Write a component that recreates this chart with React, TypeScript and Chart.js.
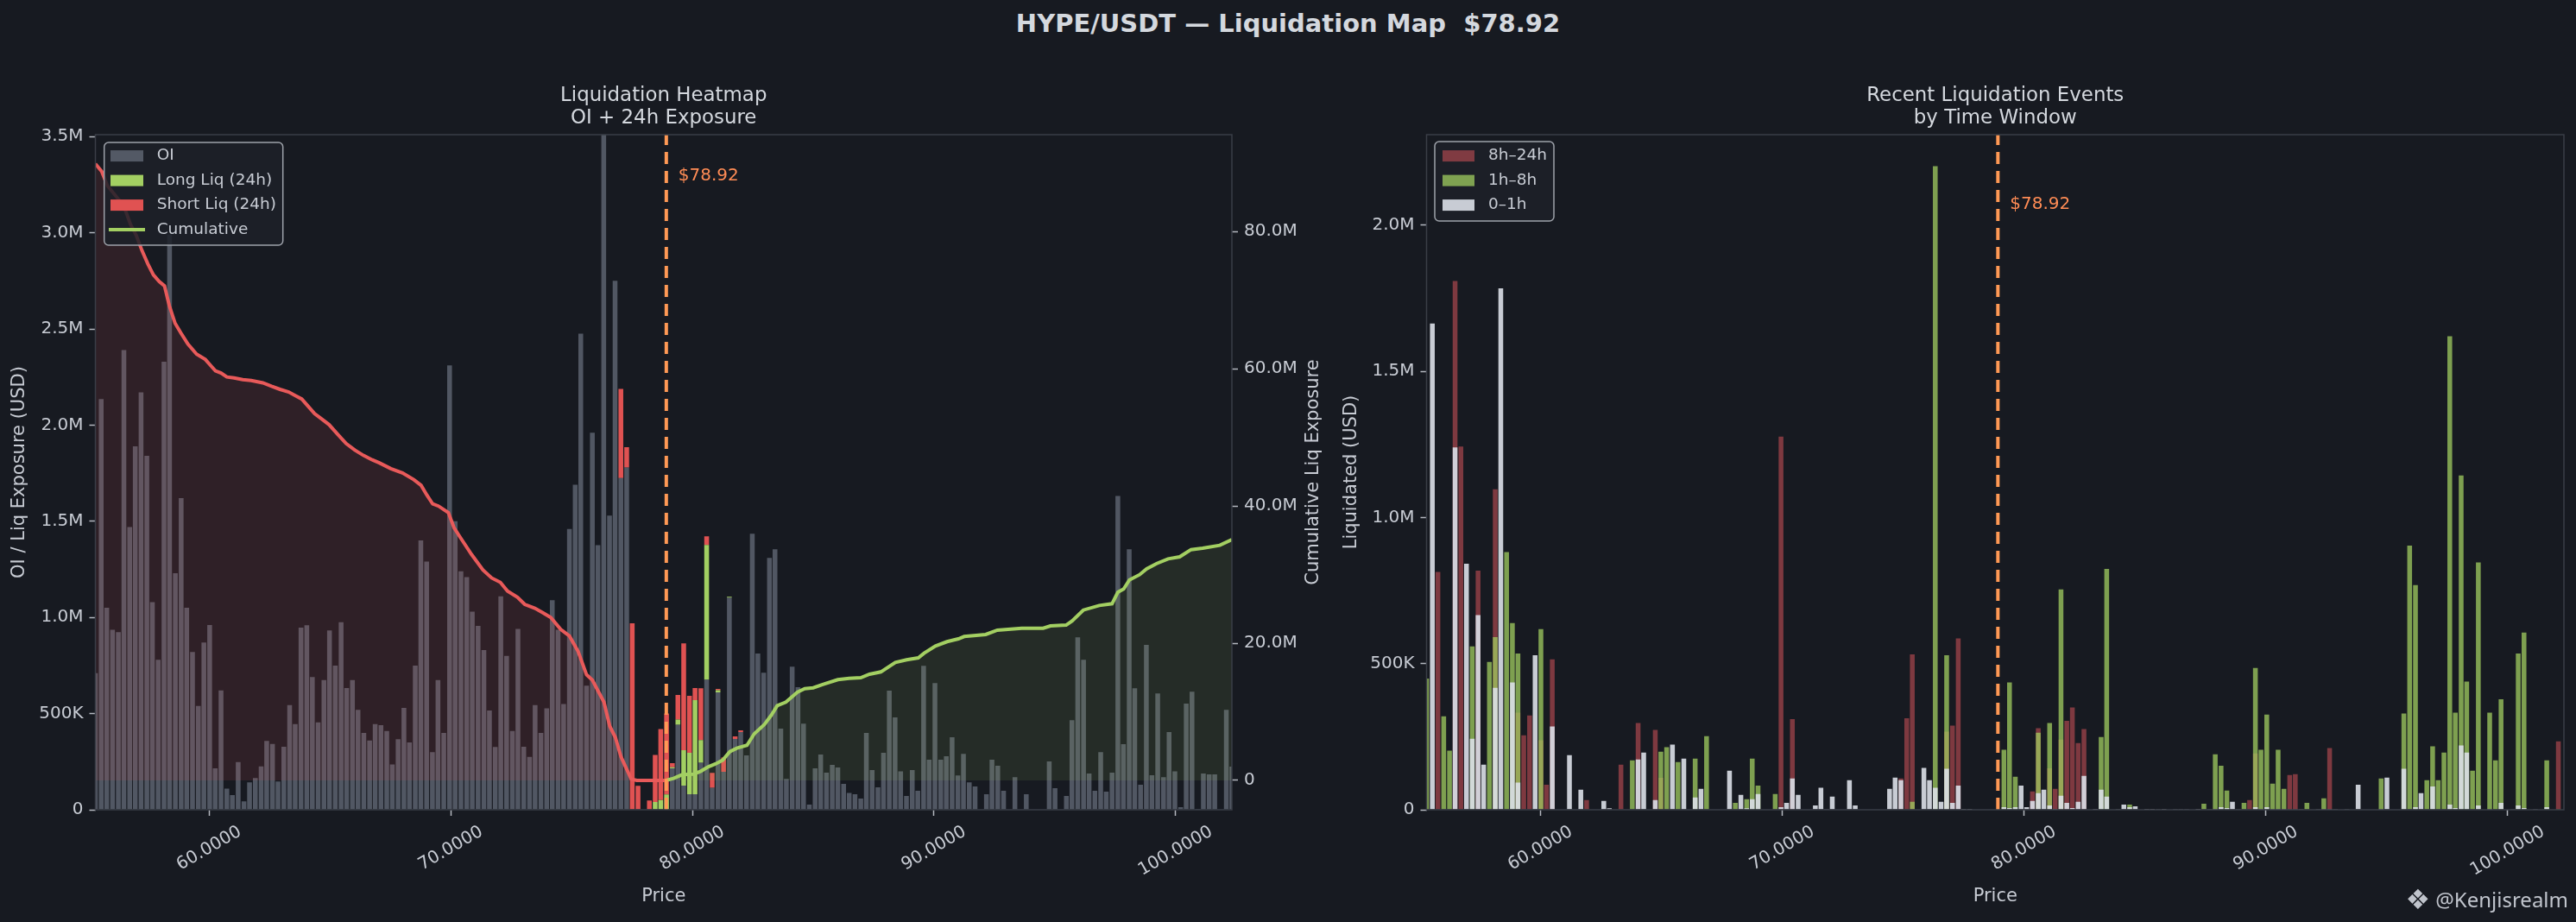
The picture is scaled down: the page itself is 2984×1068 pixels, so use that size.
import React, { useEffect, useRef } from "react";
import { Chart, registerables } from "chart.js";

Chart.register(...registerables);

// ---------------- data ----------------
const CURRENT_PRICE = 78.92;
const X_MIN = 55.29;
const X_MAX = 102.33;
const X_TICKS = [60, 70, 80, 90, 100];
const Y_TICKS_LEFT = [0, 0.5, 1, 1.5, 2, 2.5, 3, 3.5];
const Y2_TICKS_LEFT = [0, 20, 40, 60, 80];
const Y_TICKS_RIGHT = [0, 0.5, 1, 1.5, 2];

// price bin centres
const PRICE_BINS = [
  55.29, 55.53, 55.76, 56.0, 56.24, 56.47, 56.71, 56.94, 57.18, 57.42,
  57.65, 57.89, 58.13, 58.36, 58.6, 58.84, 59.07, 59.31, 59.55, 59.78,
  60.02, 60.25, 60.49, 60.73, 60.96, 61.2, 61.44, 61.67, 61.91, 62.15,
  62.38, 62.62, 62.85, 63.09, 63.33, 63.56, 63.8, 64.04, 64.27, 64.51,
  64.75, 64.98, 65.22, 65.46, 65.69, 65.93, 66.16, 66.4, 66.64, 66.87,
  67.11, 67.35, 67.58, 67.82, 68.06, 68.29, 68.53, 68.76, 69.0, 69.24,
  69.47, 69.71, 69.95, 70.18, 70.42, 70.66, 70.89, 71.13, 71.37, 71.6,
  71.84, 72.07, 72.31, 72.55, 72.78, 73.02, 73.26, 73.49, 73.73, 73.97,
  74.2, 74.44, 74.67, 74.91, 75.15, 75.38, 75.62, 75.86, 76.09, 76.33,
  76.57, 76.8, 77.04, 77.28, 77.51, 77.75, 77.98, 78.22, 78.46, 78.69,
  78.93, 79.17, 79.4, 79.64, 79.88, 80.11, 80.35, 80.59, 80.82, 81.06,
  81.29, 81.53, 81.77, 82.0, 82.24, 82.48, 82.71, 82.95, 83.19, 83.42,
  83.66, 83.89, 84.13, 84.37, 84.6, 84.84, 85.08, 85.31, 85.55, 85.79,
  86.02, 86.26, 86.49, 86.73, 86.97, 87.2, 87.44, 87.68, 87.91, 88.15,
  88.39, 88.62, 88.86, 89.1, 89.33, 89.57, 89.8, 90.04, 90.28, 90.51,
  90.75, 90.99, 91.22, 91.46, 91.7, 91.93, 92.17, 92.4, 92.64, 92.88,
  93.11, 93.35, 93.59, 93.82, 94.06, 94.3, 94.53, 94.77, 95.01, 95.24,
  95.48, 95.71, 95.95, 96.19, 96.42, 96.66, 96.9, 97.13, 97.37, 97.61,
  97.84, 98.08, 98.31, 98.55, 98.79, 99.02, 99.26, 99.5, 99.73, 99.97,
  100.21, 100.44, 100.68, 100.92, 101.15, 101.39, 101.62, 101.86, 102.1, 102.33,
];

// open interest per bin (USD millions)
const OI = [
  0.71, 2.135, 1.05, 0.936, 0.924, 2.39, 1.47, 1.89, 2.17, 1.84,
  1.08, 0.78, 2.33, 2.99, 1.23, 1.62, 1.05, 0.82, 0.54, 0.87,
  0.96, 0.216, 0.62, 0.11, 0.076, 0.248, 0.044, 0.142, 0.165, 0.225,
  0.358, 0.342, 0.147, 0.328, 0.544, 0.445, 0.947, 0.959, 0.69, 0.454,
  0.674, 0.933, 0.75, 0.975, 0.633, 0.674, 0.52, 0.4, 0.36, 0.445,
  0.44, 0.41, 0.236, 0.367, 0.53, 0.35, 0.75, 1.4, 1.29, 0.3,
  0.674, 0.4, 2.31, 1.5, 1.24, 1.21, 1.03, 0.956, 0.83, 0.516,
  0.326, 1.11, 0.8, 0.41, 0.94, 0.328, 0.275, 0.544, 0.4, 0.527,
  1.09, 0.936, 0.55, 1.46, 1.69, 2.475, 0.645, 1.96, 1.376, 3.6,
  1.53, 2.75, 1.725, 1.78, 0, 0, 0, 0, 0, 0,
  0, 0.215, 0.442, 0.126, 0.081, 0.081, 0.245, 0.677, 0.114, 0.61,
  0.197, 1.103, 0.368, 0.404, 0.283, 1.435, 0.812, 0.713, 1.31, 1.354,
  0.422, 0.161, 0.744, 0.637, 0.448, 0.027, 0.215, 0.287, 0.193, 0.233,
  0.22, 0.135, 0.087, 0.081, 0.058, 0.4, 0.206, 0.117, 0.296, 0.619,
  0.48, 0.2, 0.072, 0.206, 0.099, 0.749, 0.26, 0.659, 0.26, 0.278,
  0.377, 0.178, 0.291, 0.143, 0.121, 0.002, 0.081, 0.26, 0.229, 0.099,
  0.002, 0.17, 0, 0.081, 0, 0, 0, 0.251, 0.112, 0.002,
  0.072, 0.466, 0.897, 0.78, 0.188, 0.099, 0.3, 0.094, 0.193, 1.632,
  0.341, 1.354, 0.632, 0.13, 0.857, 0.179, 0.605, 0.17, 0.404, 0.2,
  0.013, 0.552, 0.614, 0.004, 0.188, 0.184, 0.184, 0.002, 0.52, 0.224,
];

// [bin index, USD millions]
const LONG_LIQ_24H: [number, number][] = [
  [98, 0.04], [99, 0.05], [100, 0.08], [101, 0.006], [102, 0.027], [103, 0.184],
  [104, 0.215], [105, 0.489], [106, 0.118], [107, 0.7], [109, 0.012], [111, 0.005],
];
const SHORT_LIQ_24H: [number, number][] = [
  [92, 0.463], [93, 0.105], [94, 0.97], [95, 0.124], [97, 0.048], [98, 0.245],
  [99, 0.37], [100, 0.42], [101, 0.021], [102, 0.128], [103, 0.555], [104, 0.296],
  [105, 0.063], [106, 0.269], [107, 0.045], [108, 0.078], [109, 0.006], [110, 0.075],
  [112, 0.013], [113, 0.009],
];

// cumulative exposure: [price, USD millions]
const CUM_SHORT: [number, number][] = [
  [55.29, 89.85], [55.55, 88.75], [55.79, 86.64], [56.27, 84.59], [56.51, 83.3],
  [56.74, 81.05], [56.98, 79.45], [57.22, 77.2], [57.46, 75.28], [57.69, 73.67],
  [57.93, 72.71], [58.15, 72.07], [58.35, 69.18], [58.59, 66.61], [58.83, 65.2],
  [59.12, 63.59], [59.48, 62.12], [59.84, 61.35], [60.08, 60.38], [60.26, 59.68],
  [60.49, 59.37], [60.73, 58.79], [61.03, 58.65], [61.39, 58.4], [61.74, 58.27],
  [62.22, 57.94], [62.58, 57.44], [62.93, 56.99], [63.29, 56.6], [63.53, 56.15],
  [63.83, 55.58], [64.12, 54.42], [64.36, 53.45], [64.6, 52.81], [64.96, 51.85],
  [65.32, 50.43], [65.67, 49.09], [66.03, 48.13], [66.39, 47.35], [66.75, 46.71],
  [67.04, 46.27], [67.52, 45.43], [68.0, 44.8], [68.47, 43.83], [68.77, 43.0],
  [69.01, 41.58], [69.25, 40.29], [69.49, 39.98], [69.9, 39.01], [70.14, 36.77],
  [70.44, 35.16], [70.86, 32.92], [71.33, 30.67], [71.69, 29.51], [72.05, 28.87],
  [72.35, 27.59], [72.76, 26.69], [73.06, 25.66], [73.48, 25.08], [73.84, 24.38],
  [74.14, 23.74], [74.55, 22.0], [74.91, 21.05], [75.27, 18.79], [75.62, 15.4],
  [75.86, 14.62], [76.34, 11.41], [76.58, 7.89], [76.81, 6.28], [77.05, 3.4],
  [77.47, 0.18], [77.7, 0], [78.9, 0],
];
const CUM_LONG: [number, number][] = [
  [78.9, 0], [79.22, 0.29], [79.58, 0.84], [80.05, 0.92], [80.35, 1.34],
  [80.65, 1.97], [80.95, 2.39], [81.25, 2.94], [81.55, 4.19], [81.84, 4.69],
  [82.26, 5.12], [82.56, 6.79], [82.98, 8.14], [83.27, 9.52], [83.51, 10.9],
  [83.87, 11.41], [84.35, 12.87], [84.65, 13.37], [85.0, 13.5], [85.42, 14.0],
  [86.02, 14.68], [86.49, 14.88], [86.97, 14.97], [87.33, 15.47], [87.8, 15.81],
  [88.4, 17.2], [88.87, 17.57], [89.35, 17.86], [89.59, 18.53], [90.06, 19.59],
  [90.54, 20.22], [91.01, 20.63], [91.25, 20.97], [92.14, 21.26], [92.62, 21.89],
  [93.63, 22.18], [94.52, 22.18], [94.82, 22.52], [95.47, 22.64], [95.71, 23.23],
  [96.18, 24.82], [96.84, 25.49], [97.37, 25.75], [97.61, 27.42], [97.85, 27.89],
  [98.09, 29.22], [98.51, 29.98], [98.8, 30.82], [99.22, 31.61], [99.69, 32.29],
  [100.17, 32.58], [100.64, 33.63], [101.12, 33.84], [101.83, 34.26], [102.33, 35.1],
];

// recent liquidation events: [bin index, USD millions]
const EV_8H_24H: [number, number][] = [
  [2, 0.814], [5, 1.809], [6, 1.243], [9, 0.818], [12, 1.097], [16, 0.332], [17, 0.255],
  [18, 0.323], [20, 0.238], [21, 0.086], [22, 0.515], [28, 0.033], [34, 0.154], [37, 0.297],
  [40, 0.273], [41, 0.109], [62, 1.277], [64, 0.31], [83, 0.107], [84, 0.313], [85, 0.532],
  [91, 0.267], [92, 0.288], [93, 0.586], [106, 0.063], [107, 0.279], [109, 0.142], [110, 0.072],
  [111, 0.24], [112, 0.304], [113, 0.35], [114, 0.228], [115, 0.276], [144, 0.033], [145, 0.193],
  [151, 0.119], [152, 0.122], [158, 0.211], [198, 0.234],
];
const EV_1H_8H: [number, number][] = [
  [0, 0.449], [3, 0.32], [4, 0.202], [8, 0.559], [11, 0.506], [12, 0.591], [14, 0.882],
  [15, 0.639], [16, 0.535], [20, 0.618], [36, 0.169], [41, 0.199], [42, 0.214], [44, 0.163],
  [47, 0.175], [49, 0.252], [54, 0.024], [56, 0.036], [57, 0.175], [58, 0.083], [61, 0.054],
  [85, 0.027], [89, 2.202], [91, 0.529], [101, 0.205], [102, 0.436], [103, 0.113], [107, 0.264],
  [109, 0.297], [111, 0.754], [118, 0.249], [119, 0.824], [123, 0.018], [136, 0.021], [138, 0.19],
  [139, 0.151], [140, 0.066], [143, 0.024], [145, 0.485], [146, 0.205], [147, 0.326], [148, 0.089],
  [149, 0.205], [150, 0.072], [154, 0.024], [157, 0.039], [167, 0.107], [171, 0.329], [172, 0.904],
  [173, 0.769], [175, 0.101], [176, 0.217], [177, 0.101], [178, 0.196], [179, 1.62], [180, 0.332],
  [181, 1.144], [182, 0.439], [183, 0.134], [184, 0.846], [186, 0.332], [187, 0.169], [188, 0.378],
  [191, 0.535], [192, 0.606], [196, 0.169], [198, 0.003],
];
const EV_0H_1H: [number, number][] = [
  [1, 1.664], [5, 1.24], [7, 0.842], [8, 0.243], [9, 0.666], [10, 0.154], [12, 0.417], [13, 1.784],
  [15, 0.436], [16, 0.093], [19, 0.529], [22, 0.285], [25, 0.187], [27, 0.069], [31, 0.03], [32, 0.005],
  [37, 0.172], [38, 0.196], [40, 0.033], [43, 0.223], [45, 0.175], [47, 0.042], [48, 0.072], [53, 0.134],
  [55, 0.051], [56, 0.005], [57, 0.036], [58, 0.054], [62, 0.009], [63, 0.024], [64, 0.107], [65, 0.051],
  [68, 0.015], [69, 0.075], [70, 0.002], [71, 0.045], [74, 0.101], [75, 0.015], [81, 0.072], [82, 0.11],
  [83, 0.101], [87, 0.143], [88, 0.101], [89, 0.075], [90, 0.027], [91, 0.14], [92, 0.024], [93, 0.083],
  [94, 0.003], [95, 0.003], [101, 0.009], [102, 0.006], [103, 0.009], [104, 0.083], [105, 0.009],
  [106, 0.03], [107, 0.057], [108, 0.069], [109, 0.015], [110, 0.003], [111, 0.048], [112, 0.024],
  [113, 0.006], [114, 0.027], [115, 0.116], [117, 0.003], [118, 0.069], [119, 0.045], [121, 0.002],
  [122, 0.018], [123, 0.009], [124, 0.012], [126, 0.003], [127, 0.003], [128, 0.002], [129, 0.003],
  [131, 0.002], [132, 0.002], [133, 0.002], [135, 0.003], [137, 0.002], [138, 0.003], [139, 0.009],
  [140, 0.006], [141, 0.027], [142, 0.002], [145, 0.009], [146, 0.003], [147, 0.009], [148, 0.003],
  [149, 0.003], [150, 0.003], [151, 0.002], [152, 0.002], [153, 0.002], [156, 0.002], [157, 0.003],
  [158, 0.003], [159, 0.002], [161, 0.002], [163, 0.086], [167, 0.003], [168, 0.11], [171, 0.14],
  [173, 0.009], [174, 0.057], [176, 0.08], [179, 0.018], [180, 0.006], [181, 0.22], [182, 0.196],
  [184, 0.015], [186, 0.003], [188, 0.024], [190, 0.002], [191, 0.015], [192, 0.006], [194, 0.002],
  [196, 0.009],
];

// ---------------- style ----------------
const FONT = "'DejaVu Sans', sans-serif";
const BG = "#171a21";
const TEXT = "#c8ccd4";
const TITLE = "#d4d8de";
const SPINE = "#3a3e47";
const TICK = "#b4b8c0";
const OI_COLOR = "rgba(107,114,128,0.7)";
const LONG_COLOR = "#a3cf62";
const SHORT_COLOR = "#e05252";
const RED_LINE = "#e85a5a";
const RED_FILL = "rgba(224,82,82,0.12)";
const GREEN_LINE = "#a3cf62";
const GREEN_FILL = "rgba(163,207,98,0.1)";
const PRICE_COLOR = "#ff9955";
const PRICE_TEXT = "#ff8c55";
const EV_RED = "rgba(195,79,85,0.6)";
const EV_GREEN = "rgba(162,205,96,0.75)";
const EV_WHITE = "rgba(220,224,232,0.9)";
const LEGEND_BG = "rgba(29,33,41,0.86)";
const LEGEND_EDGE = "#9ea2aa";

const TICK_FS = 20;
const LABEL_FS = 21;
const TITLE_FS = 22.9;
const LEGEND_FS = 18.5;
const TICK_LEN = 7;
const TICK_PAD = 7;

const fmtUSD = (v: number) =>
  v === 0 ? "0" : Math.abs(v) >= 1 ? `${v.toFixed(1)}M` : `${Math.round(v * 1000)}K`;

const fromBins = (pairs: [number, number][]) =>
  pairs.map(([b, v]) => ({ x: PRICE_BINS[b], y: v }));
const fromPairs = (pairs: [number, number][]) => pairs.map(([x, y]) => ({ x, y }));

type LegendItem = { label: string; color: string; kind: "rect" | "line" };
type PanelCfg = {
  titles: string[];
  labelY: number;
  legend: {
    x: number; y: number; w: number; h: number;
    swX: number; swW: number; textX: number; firstRow: number; rowGap: number;
    items: LegendItem[];
  };
  y2Title?: { text: string; x: number };
};

function roundRect(ctx: CanvasRenderingContext2D, x: number, y: number, w: number, h: number, r: number) {
  ctx.beginPath();
  ctx.moveTo(x + r, y);
  ctx.lineTo(x + w - r, y);
  ctx.arcTo(x + w, y, x + w, y + r, r);
  ctx.lineTo(x + w, y + h - r);
  ctx.arcTo(x + w, y + h, x + w - r, y + h, r);
  ctx.lineTo(x + r, y + h);
  ctx.arcTo(x, y + h, x, y + h - r, r);
  ctx.lineTo(x, y + r);
  ctx.arcTo(x, y, x + r, y, r);
  ctx.closePath();
}

function panelPlugin(cfg: PanelCfg) {
  return {
    id: "panelDecor",
    afterDatasetsDraw(chart: any) {
      const { ctx, chartArea: a, scales } = chart;
      const px = scales.x.getPixelForValue(CURRENT_PRICE);
      ctx.save();
      ctx.beginPath();
      ctx.rect(a.left, a.top, a.right - a.left, a.bottom - a.top);
      ctx.clip();
      ctx.strokeStyle = PRICE_COLOR;
      ctx.lineWidth = 4;
      ctx.setLineDash([14, 8]);
      ctx.beginPath();
      ctx.moveTo(px, a.bottom);
      ctx.lineTo(px, a.top);
      ctx.stroke();
      ctx.restore();
      ctx.save();
      ctx.font = `20px ${FONT}`;
      ctx.fillStyle = PRICE_TEXT;
      ctx.textAlign = "left";
      ctx.textBaseline = "middle";
      ctx.fillText(`$${CURRENT_PRICE.toFixed(2)}`, px + 14, scales.y.getPixelForValue(cfg.labelY));
      ctx.restore();
    },
    afterDraw(chart: any) {
      const { ctx, chartArea: a, scales } = chart;
      // frame
      ctx.save();
      ctx.strokeStyle = SPINE;
      ctx.lineWidth = 1.5;
      ctx.strokeRect(a.left, a.top, a.right - a.left, a.bottom - a.top);
      ctx.restore();
      // x tick labels (rotated, centred on tick)
      ctx.save();
      ctx.font = `${TICK_FS}px ${FONT}`;
      ctx.fillStyle = TEXT;
      ctx.textAlign = "center";
      ctx.textBaseline = "middle";
      const ang = Math.PI / 6;
      for (const t of scales.x.ticks) {
        const label = Number(t.value).toFixed(4);
        const x = scales.x.getPixelForValue(t.value);
        const w = ctx.measureText(label).width;
        const h = w * Math.sin(ang) + TICK_FS * 1.17 * Math.cos(ang);
        const y = a.bottom + TICK_LEN + TICK_PAD + h / 2;
        ctx.save();
        ctx.translate(x, y);
        ctx.rotate(-ang);
        ctx.fillText(label, 0, 0);
        ctx.restore();
      }
      ctx.restore();
      // panel title
      ctx.save();
      ctx.font = `${TITLE_FS}px ${FONT}`;
      ctx.fillStyle = TITLE;
      ctx.textAlign = "center";
      ctx.textBaseline = "alphabetic";
      const cx = (a.left + a.right) / 2;
      cfg.titles.forEach((t, i) => ctx.fillText(t, cx, 116.5 + i * 26.5));
      ctx.restore();
      // secondary y title
      if (cfg.y2Title) {
        ctx.save();
        ctx.font = `${LABEL_FS}px ${FONT}`;
        ctx.fillStyle = TEXT;
        ctx.textAlign = "center";
        ctx.textBaseline = "middle";
        ctx.translate(cfg.y2Title.x, (a.top + a.bottom) / 2);
        ctx.rotate(-Math.PI / 2);
        ctx.fillText(cfg.y2Title.text, 0, 0);
        ctx.restore();
      }
      // legend
      const L = cfg.legend;
      ctx.save();
      roundRect(ctx, L.x, L.y, L.w, L.h, 5);
      ctx.fillStyle = LEGEND_BG;
      ctx.fill();
      ctx.lineWidth = 1.5;
      ctx.strokeStyle = LEGEND_EDGE;
      ctx.stroke();
      ctx.font = `${LEGEND_FS}px ${FONT}`;
      ctx.textAlign = "left";
      ctx.textBaseline = "middle";
      L.items.forEach((it, i) => {
        const cy = L.y + L.firstRow + i * L.rowGap;
        if (it.kind === "line") {
          ctx.strokeStyle = it.color;
          ctx.lineWidth = 4;
          ctx.beginPath();
          ctx.moveTo(L.x + L.swX - 2, cy);
          ctx.lineTo(L.x + L.swX + L.swW + 2, cy);
          ctx.stroke();
        } else {
          ctx.fillStyle = it.color;
          ctx.fillRect(L.x + L.swX, cy - 6.5, L.swW, 13);
        }
        ctx.fillStyle = TEXT;
        ctx.fillText(it.label, L.x + L.textX, cy);
      });
      ctx.restore();
    },
  };
}

const tickFont = { family: FONT, size: TICK_FS };
const labelFont = { family: FONT, size: LABEL_FS };
const gridOpts = {
  display: true,
  drawOnChartArea: false,
  drawTicks: true,
  tickLength: TICK_LEN,
  color: TICK,
  tickColor: TICK,
  tickWidth: 1.5,
};

function xScale() {
  return {
    type: "linear" as const,
    min: X_MIN,
    max: X_MAX,
    offset: false,
    stacked: true,
    grid: { ...gridOpts, offset: false },
    border: { display: false },
    ticks: { display: false },
    afterBuildTicks: (s: any) => {
      s.ticks = X_TICKS.map((v) => ({ value: v }));
    },
    title: {
      display: true,
      text: "Price",
      color: TEXT,
      font: labelFont,
      padding: { top: 0, bottom: 16.4 },
    },
    afterFit: (s: any) => {
      s.height = 130;
    },
  };
}

export default function App() {
  const leftRef = useRef<HTMLCanvasElement | null>(null);
  const rightRef = useRef<HTMLCanvasElement | null>(null);

  useEffect(() => {
    document.body.style.margin = "0";
    document.body.style.background = BG;

    const barCommon = {
      type: "bar" as const,
      categoryPercentage: 1,
      barPercentage: 0.86,
      borderWidth: 0,
      clip: 0,
    };

    const left = new Chart(leftRef.current as HTMLCanvasElement, {
      type: "bar",
      data: {
        datasets: [
          {
            type: "line",
            label: "Cumulative short",
            data: fromPairs(CUM_SHORT),
            yAxisID: "y2",
            borderColor: RED_LINE,
            backgroundColor: RED_FILL,
            borderWidth: 4,
            pointRadius: 0,
            tension: 0,
            fill: { value: 0 },
            order: 0,
          },
          {
            type: "line",
            label: "Cumulative",
            data: fromPairs(CUM_LONG),
            yAxisID: "y2",
            borderColor: GREEN_LINE,
            backgroundColor: GREEN_FILL,
            borderWidth: 4,
            pointRadius: 0,
            tension: 0,
            fill: { value: 0 },
            order: 0,
          },
          {
            ...barCommon,
            label: "OI",
            data: PRICE_BINS.map((x, i) => ({ x, y: OI[i] })),
            backgroundColor: OI_COLOR,
            yAxisID: "y",
            order: 1,
          },
          {
            ...barCommon,
            label: "Long Liq (24h)",
            data: fromBins(LONG_LIQ_24H),
            backgroundColor: LONG_COLOR,
            yAxisID: "y",
            order: 1,
          },
          {
            ...barCommon,
            label: "Short Liq (24h)",
            data: fromBins(SHORT_LIQ_24H),
            backgroundColor: SHORT_COLOR,
            yAxisID: "y",
            order: 1,
          },
        ] as any,
      },
      options: {
        animation: false,
        responsive: false,
        maintainAspectRatio: false,
        events: [],
        layout: { padding: { top: 156, left: 0, right: 0, bottom: 0 } },
        plugins: {
          legend: { display: false },
          tooltip: { enabled: false },
          title: { display: false },
        },
        scales: {
          x: xScale(),
          y: {
            type: "linear",
            position: "left",
            stacked: true,
            min: 0,
            max: 3.51,
            grid: gridOpts,
            border: { display: false },
            afterBuildTicks: (s: any) => {
              s.ticks = Y_TICKS_LEFT.map((v) => ({ value: v }));
            },
            ticks: {
              color: TEXT,
              font: tickFont,
              padding: TICK_PAD,
              callback: (v: any) => fmtUSD(Number(v)),
            },
            title: {
              display: true,
              text: "OI / Liq Exposure (USD)",
              color: TEXT,
              font: labelFont,
              padding: { top: 10.4, bottom: 0 },
            },
            afterFit: (s: any) => {
              s.width = 110.5;
            },
          },
          y2: {
            type: "linear",
            position: "right",
            stacked: false,
            min: -4.28,
            max: 94.1,
            grid: gridOpts,
            border: { display: false },
            afterBuildTicks: (s: any) => {
              s.ticks = Y2_TICKS_LEFT.map((v) => ({ value: v }));
            },
            ticks: {
              color: TEXT,
              font: tickFont,
              padding: TICK_PAD,
              callback: (v: any) => fmtUSD(Number(v)),
            },
            afterFit: (s: any) => {
              s.width = 113;
            },
          },
        } as any,
      },
      plugins: [
        panelPlugin({
          titles: ["Liquidation Heatmap", "OI + 24h Exposure"],
          labelY: 3.297,
          y2Title: { text: "Cumulative Liq Exposure", x: 1522 },
          legend: {
            x: 120.7, y: 165, w: 207, h: 119,
            swX: 7.3, swW: 38, textX: 61, firstRow: 15.6, rowGap: 28.5,
            items: [
              { label: "OI", color: OI_COLOR, kind: "rect" },
              { label: "Long Liq (24h)", color: LONG_COLOR, kind: "rect" },
              { label: "Short Liq (24h)", color: SHORT_COLOR, kind: "rect" },
              { label: "Cumulative", color: GREEN_LINE, kind: "line" },
            ],
          },
        }),
      ],
    });

    const evBar = { ...barCommon, grouped: false, yAxisID: "y" };
    const right = new Chart(rightRef.current as HTMLCanvasElement, {
      type: "bar",
      data: {
        datasets: [
          { ...evBar, label: "8h–24h", data: fromBins(EV_8H_24H), backgroundColor: EV_RED, order: 2 },
          { ...evBar, label: "1h–8h", data: fromBins(EV_1H_8H), backgroundColor: EV_GREEN, order: 1 },
          { ...evBar, label: "0–1h", data: fromBins(EV_0H_1H), backgroundColor: EV_WHITE, order: 0 },
        ] as any,
      },
      options: {
        animation: false,
        responsive: false,
        maintainAspectRatio: false,
        events: [],
        layout: { padding: { top: 156, left: 0, right: 14, bottom: 0 } },
        plugins: {
          legend: { display: false },
          tooltip: { enabled: false },
          title: { display: false },
        },
        scales: {
          x: xScale(),
          y: {
            type: "linear",
            position: "left",
            min: 0,
            max: 2.31,
            grid: gridOpts,
            border: { display: false },
            afterBuildTicks: (s: any) => {
              s.ticks = Y_TICKS_RIGHT.map((v) => ({ value: v }));
            },
            ticks: {
              color: TEXT,
              font: tickFont,
              padding: TICK_PAD,
              callback: (v: any) => fmtUSD(Number(v)),
            },
            title: {
              display: true,
              text: "Liquidated (USD)",
              color: TEXT,
              font: labelFont,
              padding: { top: 13.4, bottom: 0 },
            },
            afterFit: (s: any) => {
              s.width = 112.5;
            },
          },
        } as any,
      },
      plugins: [
        panelPlugin({
          titles: ["Recent Liquidation Events", "by Time Window"],
          labelY: 2.07,
          legend: {
            x: 122, y: 164, w: 138, h: 92,
            swX: 9, swW: 37, textX: 62, firstRow: 16.6, rowGap: 28.5,
            items: [
              { label: "8h–24h", color: EV_RED, kind: "rect" },
              { label: "1h–8h", color: EV_GREEN, kind: "rect" },
              { label: "0–1h", color: EV_WHITE, kind: "rect" },
            ],
          },
        }),
      ],
    });

    return () => {
      left.destroy();
      right.destroy();
    };
  }, []);

  return (
    <div
      style={{
        position: "fixed",
        left: 0,
        top: 0,
        width: 2984,
        height: 1068,
        background: BG,
        overflow: "hidden",
      }}
    >
      <div
        style={{
          position: "absolute",
          left: 0,
          top: 13,
          width: 2984,
          textAlign: "center",
          fontFamily: FONT,
          fontWeight: "bold",
          fontSize: 29,
          lineHeight: "29px",
          color: TITLE,
          whiteSpace: "pre",
        }}
      >
        {`HYPE/USDT — Liquidation Map  $${CURRENT_PRICE.toFixed(2)}`}
      </div>
      <canvas
        ref={leftRef}
        width={1540}
        height={1068}
        style={{ position: "absolute", left: 0, top: 0, width: 1540, height: 1068 }}
      />
      <canvas
        ref={rightRef}
        width={1444}
        height={1068}
        style={{ position: "absolute", left: 1540, top: 0, width: 1444, height: 1068 }}
      />
      <div
        style={{
          position: "absolute",
          right: 9,
          top: 1026,
          height: 32,
          display: "flex",
          alignItems: "center",
          color: "#c0c4cc",
          fontFamily: "'Noto Sans', sans-serif",
          fontSize: 24,
          lineHeight: "32px",
          whiteSpace: "pre",
        }}
      >
        <span style={{ fontFamily: FONT, fontSize: 32, marginRight: 6 }}>❖</span>
        <span>@Kenjisrealm</span>
      </div>
    </div>
  );
}
